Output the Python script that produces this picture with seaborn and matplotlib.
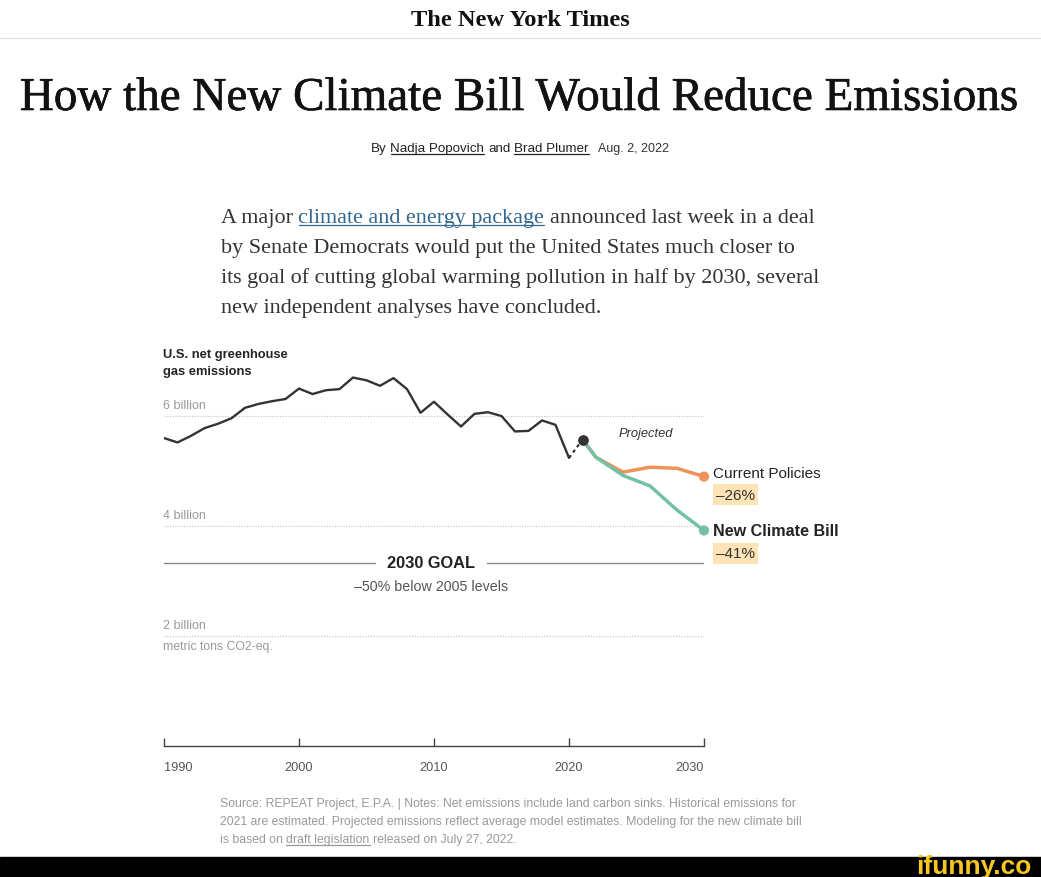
import pandas as pd
import seaborn as sns
import matplotlib.pyplot as plt
import matplotlib.patheffects as pe
from matplotlib.lines import Line2D
from matplotlib.patches import Rectangle

# historical U.S. net greenhouse gas emissions, billion metric tons CO2-eq.
years_hist = list(range(1990, 2021))
emis_hist = [5.59, 5.51, 5.63, 5.77, 5.85, 5.95, 6.14, 6.21, 6.26, 6.30,
             6.49, 6.39, 6.46, 6.48, 6.69, 6.64, 6.54, 6.68, 6.48, 6.05,
             6.25, 6.02, 5.80, 6.03, 6.06, 5.99, 5.71, 5.72, 5.91, 5.83,
             5.23]
year_est = 2021
emis_est = 5.56

# projections
years_proj = [2021, 2022, 2024, 2026, 2028, 2030]
current_policies = [5.56, 5.24, 4.97, 5.06, 5.04, 4.89]
new_climate_bill = [5.56, 5.24, 4.91, 4.72, 4.28, 3.91]
scenario_names = ['Current Policies', 'New Climate Bill']
scenario_changes = ['–26%', '–41%']
goal_2030 = 3.32

y_ticks = [2, 4, 6]
y_tick_labels = ['2 billion', '4 billion', '6 billion']
x_ticks = [1990, 2000, 2010, 2020, 2030]

ORANGE = '#f0935b'
GREEN = '#74c1a7'
DARK = '#333333'

sns.set_style('white')
plt.rcParams['font.family'] = ['Liberation Sans', 'DejaVu Sans']

W, H = 1041, 878
fig = plt.figure(figsize=(W / 100, H / 100), dpi=100)
renderer = fig.canvas.get_renderer()


def fx(x):
    return x / W


def fy(y):
    return 1 - y / H


def fit_text(x, y, s, width, **kw):
    t = fig.text(fx(x), fy(y), s, **kw)
    w = t.get_window_extent(renderer).width
    t.set_fontsize(t.get_fontsize() * width / w)
    return t


def chunks(x, y, parts, size, family=None, color='#222222'):
    # parts: (text, colour, underline); a gap of one space between parts
    probe = fig.text(0, 0, 'x x', fontsize=size, family=family)
    probe2 = fig.text(0, 0, 'xx', fontsize=size, family=family)
    gap = probe.get_window_extent(renderer).width - probe2.get_window_extent(renderer).width
    probe.remove()
    probe2.remove()
    for s, c, ul in parts:
        t = fig.text(fx(x), fy(y), s, fontsize=size, family=family,
                     color=c or color, va='baseline', ha='left')
        bb = t.get_window_extent(renderer)
        if ul:
            fig.add_artist(Line2D([fx(bb.x0), fx(bb.x1)], [fy(y + 2.5)] * 2,
                                  color=c or color, lw=0.9))
        x = bb.x1 + gap


# header
fit_text(520, 26, 'The New York Times', 219, family='Liberation Serif',
         weight='bold', ha='center', va='baseline', fontsize=18, color='#111111')
fig.add_artist(Line2D([0, 1], [fy(39)] * 2, color='#e2e2e2', lw=1))
title = fit_text(520, 111, 'How the New Climate Bill Would Reduce Emissions', 998,
                 family='Liberation Serif', ha='center', va='baseline',
                 fontsize=36, color='#121212')
title.set_path_effects([pe.withStroke(linewidth=0.45, foreground='#121212')])

# byline
chunks(371, 152, [('By', None, False), ('Nadja Popovich', None, True),
                  ('and', None, False), ('Brad Plumer', None, True)], 9.6)
fig.text(fx(598), fy(152), 'Aug. 2, 2022', fontsize=9.0, color='#333333',
         va='baseline', ha='left')

# intro paragraph
para_size = 15.9
chunks(221, 223, [('A major', '#333333', False),
                  ('climate and energy package', '#326891', True),
                  ('announced last week in a deal', '#333333', False)],
       para_size, family='Liberation Serif')
para_lines = ['by Senate Democrats would put the United States much closer to',
              'its goal of cutting global warming pollution in half by 2030, several',
              'new independent analyses have concluded.']
for i, line in enumerate(para_lines):
    fig.text(fx(221), fy(253 + 30 * i), line, fontsize=para_size,
             family='Liberation Serif', color='#333333', va='baseline')

# chart
ax = fig.add_axes([fx(164), (H - 746.5) / H, 540 / W, 385 / H])
ax.set_xlim(1990, 2030)
ax.set_ylim(0, 7)

for yt, lab in zip(y_ticks, y_tick_labels):
    ax.axhline(yt, color='#c8c8c8', lw=0.9, ls=(0, (1, 1.2)), zorder=0)
    ax.annotate(lab, (1990, yt), xytext=(-1, 4), textcoords='offset pixels',
                ha='left', va='bottom', fontsize=9, color='#999999')
ax.annotate('metric tons CO2-eq.', (1990, y_ticks[0]), xytext=(-1, -5),
            textcoords='offset pixels', ha='left', va='top', fontsize=8.8,
            color='#999999')

hist = pd.DataFrame({'year': years_hist, 'emissions': emis_hist})
proj = pd.DataFrame({'year': years_proj * 2,
                     'emissions': current_policies + new_climate_bill,
                     'scenario': [scenario_names[0]] * len(years_proj)
                     + [scenario_names[1]] * len(years_proj)})

sns.lineplot(data=hist, x='year', y='emissions', color=DARK, lw=1.7, ax=ax)
ax.plot([years_hist[-1], year_est], [emis_hist[-1], emis_est], color=DARK,
        lw=1.6, ls=(0, (1.5, 1.5)))
sns.lineplot(data=proj, x='year', y='emissions', hue='scenario',
             palette={scenario_names[0]: ORANGE, scenario_names[1]: GREEN},
             lw=2.5, legend=False, ax=ax)
ax.scatter([year_est], [emis_est], s=45, color=DARK, zorder=5, clip_on=False)
ax.scatter([years_proj[-1]] * 2, [current_policies[-1], new_climate_bill[-1]],
           s=40, color=[ORANGE, GREEN], zorder=5, clip_on=False)

# 2030 goal
ax.axhline(goal_2030, color='#888888', lw=1)
ax.text(2009.8, goal_2030, '2030 GOAL', ha='center', va='center',
        fontsize=11.8, weight='bold', color='#222222',
        bbox=dict(boxstyle='square,pad=0.7', fc='white', ec='none'))
ax.annotate('–50% below 2005 levels', (2009.8, goal_2030), xytext=(0, -16),
            textcoords='offset pixels', ha='center', va='top', fontsize=10.3,
            color='#555555')

ax.text(2025.7, 5.68, 'Projected', ha='center', va='center', fontsize=9.3,
        style='italic', color='#333333')

# end labels
ends = [current_policies[-1], new_climate_bill[-1]]
weights = ['normal', 'bold']
sizes = [11, 11.6]
name_off = [4, 0]
chg_off = [-18, -23]
for name, chg, val, wt, sz, o1, o2 in zip(scenario_names, scenario_changes,
                                          ends, weights, sizes, name_off, chg_off):
    ax.annotate(name, (2030, val), xytext=(9, o1), textcoords='offset pixels',
                ha='left', va='center', fontsize=sz, weight=wt, color='#222222',
                annotation_clip=False)
    ax.annotate(chg, (2030, val), xytext=(12, o2),
                textcoords='offset pixels', ha='left', va='center',
                fontsize=11, color='#333333', annotation_clip=False,
                bbox=dict(boxstyle='square,pad=0.22', fc='#fde3b5', ec='none'))

sns.despine(ax=ax, left=True)
ax.spines['bottom'].set_color('#444444')
ax.spines['bottom'].set_linewidth(1)
ax.set_yticks([])
ax.set_xticks(x_ticks)
ax.set_xticklabels([str(t) for t in x_ticks])
ax.tick_params(axis='x', bottom=True, direction='in', length=6, width=1,
               color='#444444', labelsize=9.2, labelcolor='#555555', pad=11)
xt_labels = ax.get_xticklabels()
xt_labels[0].set_ha('left')
xt_labels[-1].set_ha('right')
ax.set_xlabel('')
ax.set_ylabel('')

fig.text(fx(163), fy(349), 'U.S. net greenhouse\ngas emissions', fontsize=9.3,
         weight='bold', color='#222222', va='top', ha='left', linespacing=1.5)

# source notes
src_size = 8.85
src_lines = ['Source: REPEAT Project, E.P.A. | Notes: Net emissions include land carbon sinks. Historical emissions for',
             '2021 are estimated. Projected emissions reflect average model estimates. Modeling for the new climate bill']
for i, line in enumerate(src_lines):
    fig.text(fx(220), fy(807 + 18 * i), line, fontsize=src_size,
             color='#999999', va='baseline')
chunks(220, 843, [('is based on', '#999999', False),
                  ('draft legislation', '#999999', True),
                  ('released on July 27, 2022.', '#999999', False)], src_size)

# bottom bar
fig.add_artist(Rectangle((0, 0), 1, 20 / H, transform=fig.transFigure,
                         color='black', zorder=0))
fig.text(fx(1032), fy(867), 'ifunny.co', fontsize=19, weight='bold',
         color='#f7c621', ha='right', va='center')

fig.savefig('out.png', dpi=100)
